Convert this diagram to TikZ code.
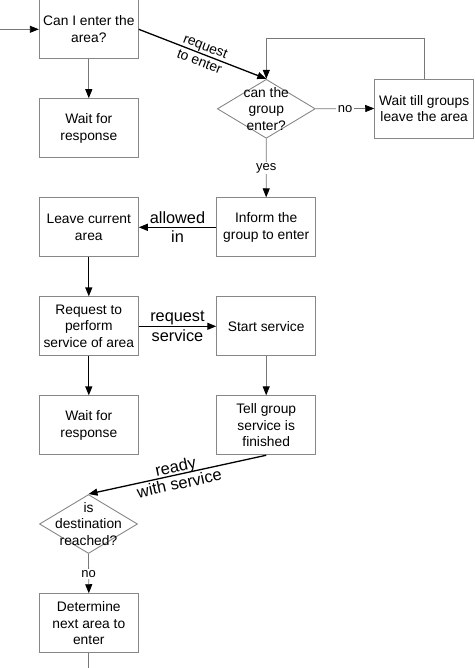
\documentclass[tikz,border=0pt]{standalone}
\usepackage{fontspec}
\setmainfont{Liberation Sans}
\usetikzlibrary{shapes.geometric,arrows.meta}
\definecolor{boxgray}{RGB}{135,135,135}
\definecolor{linegray}{RGB}{120,120,120}
\begin{document}
\begin{tikzpicture}[x=1pt,y=-1pt,
  box/.style={draw=boxgray, line width=0.9pt, minimum width=99pt, minimum height=59pt,
    inner sep=0pt, align=center, font=\fontsize{13.8}{16.7}\selectfont},
  dia/.style={diamond, draw=boxgray, line width=0.9pt, minimum width=98pt,
    minimum height=59pt, inner sep=0pt},
  diatext/.style={align=center, inner sep=0pt, font=\fontsize{13.8}{16.7}\selectfont},
  tip/.style={-{Triangle[length=9pt,width=7pt,color=black]}},
  garrow/.style={tip, draw=linegray, line width=0.8pt},
  barrow/.style={tip, draw=black, line width=1.3pt},
  gline/.style={draw=linegray, line width=0.8pt},
  small/.style={font=\fontsize{13}{15}\selectfont, fill=white, inner sep=1.5pt},
  slab/.style={align=center, inner sep=0pt, font=\fontsize{13.8}{16.5}\selectfont},
  blab/.style={align=center, inner sep=0pt, font=\fontsize{16.3}{19.2}\selectfont},
  rlab/.style={align=center, inner sep=0pt, font=\fontsize{16.5}{17.5}\selectfont}
]
\useasboundingbox (0,0) rectangle (474,668);

% nodes
\node[box] (b1) at (88.8,29.3) {Can I enter the\\area?};
\node[box] (w1) at (88.8,128.2) {Wait for\\response};
\node[dia] (d1) at (266.3,108.8) {};
\node[diatext] at (d1) {can the\\group\\enter?};
\node[box] (wt) at (424.2,108.5) {Wait till groups\\leave the area};
\node[box] (inf) at (266.2,227.3) {Inform the\\group to enter};
\node[box] (lv) at (88.8,227.3) {Leave current\\area};
\node[box] (rq) at (88.8,326.3) {Request to\\perform\\service of area};
\node[box] (ss) at (266.2,326.3) {Start service};
\node[box] (w2) at (88.8,425.3) {Wait for\\response};
\node[box] (tg) at (266.2,425.3) {Tell group\\service is\\finished};
\node[dia] (d2) at (88.5,524) {};
\node[diatext] at (d2) {is\\destination\\reached?};
\node[box] (dt) at (88.8,623.2) {Determine\\next area to\\enter};

\coordinate (in) at (0,29.3);
\coordinate (bot) at (88.8,668);

% connectors
\draw[garrow] (in) -- (b1.west);
\draw[garrow] (b1.south) -- (w1.north);
\draw[barrow] (b1.east) -- node[slab, sloped] {request\\to enter} (d1.north);
\draw[garrow] (d1.east) -- node[small] {no} (wt.west);
\draw[garrow] (wt.north) -- ++(0,-39.7) -| (d1.north);
\draw[garrow] (d1.south) -- node[small] {yes} (inf.north);
\draw[barrow] (inf.west) -- node[blab] {allowed\\in} (lv.east);
\draw[barrow] (lv.south) -- (rq.north);
\draw[barrow] (rq.east) -- node[blab] {request\\service} (ss.west);
\draw[barrow] (rq.south) -- (w2.north);
\draw[garrow] (ss.south) -- (tg.north);
\draw[barrow] (tg.south) -- node[rlab, sloped] {ready\\with service} (d2.north);
\draw[garrow] (d2.south) -- node[small] {no} (dt.north);
\draw[gline] (dt.south) -- (bot);
\end{tikzpicture}
\end{document}
